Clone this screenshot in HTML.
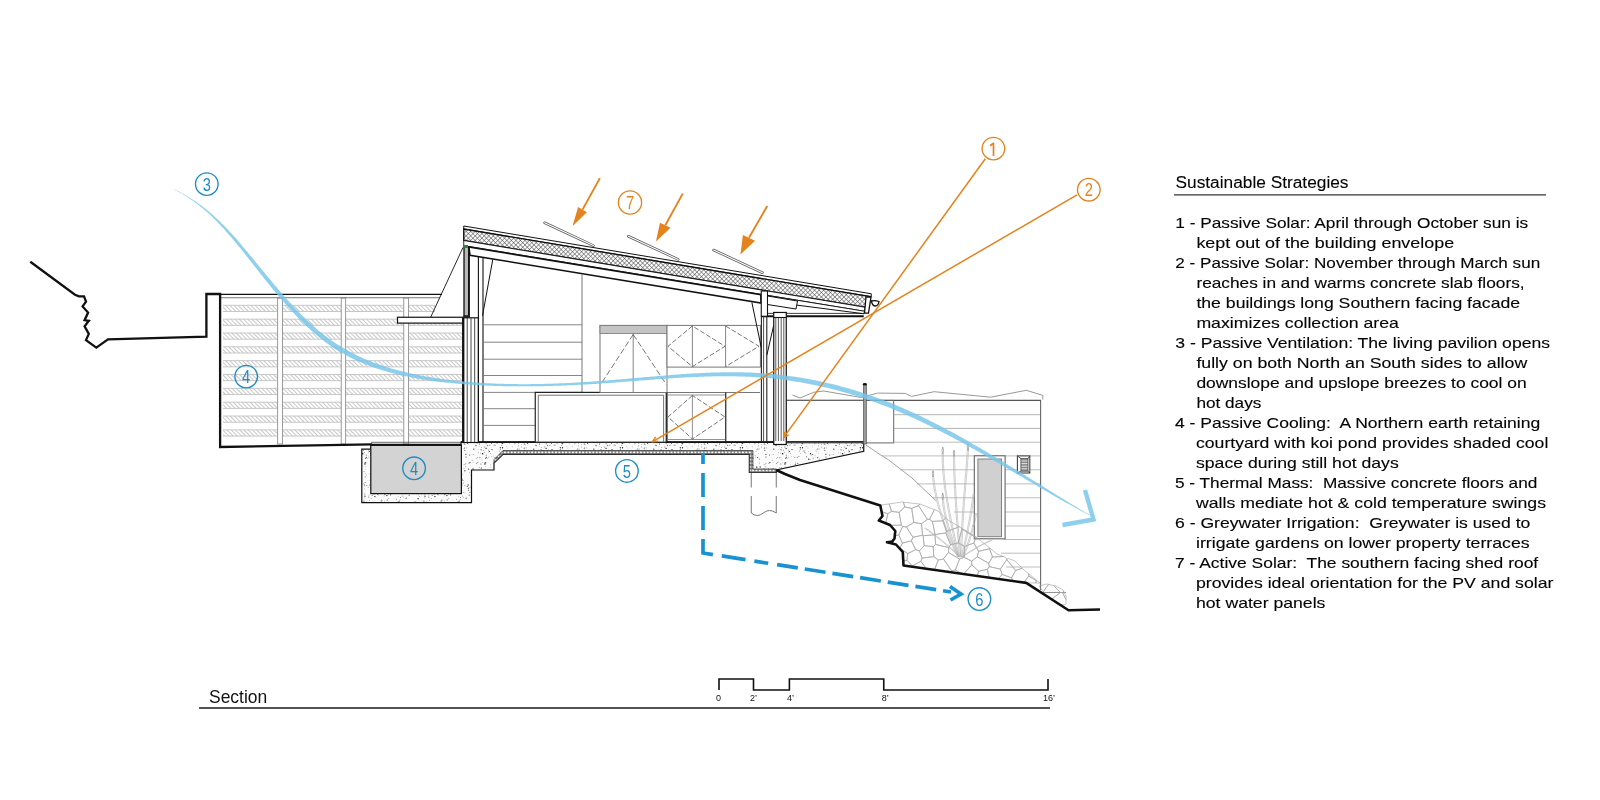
<!DOCTYPE html>
<html><head><meta charset="utf-8"><title>Section</title>
<style>
html,body{margin:0;padding:0;background:#fff;}
svg{display:block;will-change:transform;}
text{font-family:"Liberation Sans", sans-serif;}
</style></head>
<body>
<svg width="1600" height="800" viewBox="0 0 1600 800">
<rect width="1600" height="800" fill="#fff"/>
<defs>
<pattern id="hatch" width="3.0" height="3.0" patternUnits="userSpaceOnUse" patternTransform="rotate(-45)">
  <rect width="3.0" height="3.0" fill="#fff"/>
  <line x1="0" y1="0" x2="0" y2="3.0" stroke="#a4a4a4" stroke-width="1.2"/>
</pattern>
<pattern id="xhatch" width="3.2" height="3.2" patternUnits="userSpaceOnUse" patternTransform="rotate(45)">
  <rect width="3.2" height="3.2" fill="#fafafa"/>
  <line x1="0" y1="0" x2="0" y2="3.2" stroke="#444" stroke-width="0.95"/>
  <line x1="0" y1="0" x2="3.2" y2="0" stroke="#444" stroke-width="0.95"/>
</pattern>
<pattern id="membrane" width="3.4" height="3.6" patternUnits="userSpaceOnUse" y="450.6">
  <rect width="3.4" height="3.6" fill="#777"/>
  <rect x="0.7" y="0.9" width="2.1" height="1.8" fill="#fff"/>
</pattern>

<pattern id="stip" width="60" height="60" patternUnits="userSpaceOnUse"><rect width="60" height="60" fill="#fbfbfb"/><circle cx="19.4" cy="9.1" r="0.6" fill="#222"/><circle cx="4.3" cy="32.2" r="0.4" fill="#222"/><circle cx="54.6" cy="12.9" r="0.3" fill="#888"/><circle cx="25.1" cy="14.4" r="0.5" fill="#888"/><circle cx="3.5" cy="33.9" r="0.35" fill="#222"/><circle cx="34.6" cy="23.8" r="0.35" fill="#222"/><circle cx="33.4" cy="8.0" r="0.45" fill="#444"/><circle cx="32.4" cy="34.3" r="0.5" fill="#444"/><circle cx="6.2" cy="34.3" r="0.35" fill="#666"/><circle cx="5.8" cy="42.7" r="0.5" fill="#222"/><circle cx="37.1" cy="29.8" r="0.5" fill="#888"/><circle cx="46.6" cy="27.9" r="0.45" fill="#666"/><circle cx="18.0" cy="47.7" r="0.6" fill="#444"/><circle cx="4.9" cy="18.0" r="0.45" fill="#666"/><circle cx="43.8" cy="17.3" r="0.3" fill="#222"/><circle cx="30.7" cy="9.9" r="0.4" fill="#444"/><circle cx="56.0" cy="25.3" r="0.6" fill="#222"/><circle cx="45.9" cy="34.4" r="0.7" fill="#666"/><circle cx="20.4" cy="21.0" r="0.45" fill="#888"/><circle cx="4.1" cy="5.6" r="0.4" fill="#888"/><circle cx="41.8" cy="3.9" r="0.6" fill="#666"/><circle cx="38.8" cy="59.6" r="0.7" fill="#888"/><circle cx="17.1" cy="23.1" r="0.6" fill="#666"/><circle cx="1.4" cy="27.7" r="0.35" fill="#222"/><circle cx="29.6" cy="13.1" r="0.4" fill="#444"/><circle cx="44.3" cy="23.9" r="0.7" fill="#888"/><circle cx="4.8" cy="27.0" r="0.5" fill="#666"/><circle cx="53.0" cy="49.2" r="0.7" fill="#666"/><circle cx="42.4" cy="59.2" r="0.6" fill="#888"/><circle cx="57.5" cy="9.1" r="0.35" fill="#444"/><circle cx="13.9" cy="14.0" r="0.45" fill="#444"/><circle cx="15.8" cy="0.2" r="0.45" fill="#666"/><circle cx="36.6" cy="19.1" r="0.35" fill="#222"/><circle cx="27.4" cy="52.3" r="0.7" fill="#888"/><circle cx="23.9" cy="23.6" r="0.45" fill="#888"/><circle cx="3.7" cy="4.0" r="0.35" fill="#888"/><circle cx="9.7" cy="20.4" r="0.3" fill="#222"/><circle cx="0.0" cy="9.1" r="0.3" fill="#666"/><circle cx="36.8" cy="4.2" r="0.35" fill="#888"/><circle cx="8.9" cy="15.1" r="0.4" fill="#666"/><circle cx="28.4" cy="6.9" r="0.45" fill="#888"/><circle cx="28.8" cy="18.7" r="0.35" fill="#222"/><circle cx="45.0" cy="44.4" r="0.45" fill="#444"/><circle cx="31.0" cy="12.3" r="0.5" fill="#666"/><circle cx="8.8" cy="32.6" r="0.3" fill="#666"/><circle cx="58.7" cy="51.8" r="0.6" fill="#666"/><circle cx="31.1" cy="54.5" r="0.4" fill="#444"/><circle cx="32.0" cy="46.7" r="0.4" fill="#444"/><circle cx="36.8" cy="47.3" r="0.7" fill="#444"/><circle cx="48.4" cy="49.1" r="0.6" fill="#444"/><circle cx="12.0" cy="29.6" r="0.6" fill="#222"/><circle cx="59.4" cy="47.4" r="0.45" fill="#666"/><circle cx="11.6" cy="36.3" r="0.4" fill="#888"/><circle cx="48.5" cy="43.4" r="0.4" fill="#666"/><circle cx="4.8" cy="6.1" r="0.45" fill="#444"/><circle cx="20.3" cy="29.0" r="0.5" fill="#222"/><circle cx="28.8" cy="39.2" r="0.7" fill="#222"/><circle cx="50.1" cy="7.2" r="0.45" fill="#444"/><circle cx="28.7" cy="10.7" r="0.7" fill="#666"/><circle cx="5.2" cy="56.8" r="0.6" fill="#888"/><circle cx="27.8" cy="44.6" r="0.3" fill="#444"/><circle cx="10.2" cy="7.6" r="0.35" fill="#888"/><circle cx="48.4" cy="8.8" r="0.7" fill="#888"/><circle cx="39.4" cy="21.0" r="0.5" fill="#444"/><circle cx="1.3" cy="48.0" r="0.6" fill="#222"/><circle cx="31.6" cy="56.0" r="0.45" fill="#444"/><circle cx="49.6" cy="12.7" r="0.4" fill="#444"/><circle cx="17.6" cy="14.4" r="0.5" fill="#666"/><circle cx="15.6" cy="25.1" r="0.35" fill="#222"/><circle cx="54.6" cy="21.2" r="0.45" fill="#888"/><circle cx="49.6" cy="52.7" r="0.35" fill="#444"/><circle cx="31.4" cy="1.1" r="0.45" fill="#444"/><circle cx="36.5" cy="46.6" r="0.35" fill="#444"/><circle cx="8.5" cy="37.1" r="0.3" fill="#222"/><circle cx="19.6" cy="31.1" r="0.5" fill="#888"/><circle cx="47.1" cy="6.4" r="0.5" fill="#222"/><circle cx="14.9" cy="16.6" r="0.7" fill="#222"/><circle cx="30.5" cy="33.7" r="0.7" fill="#222"/><circle cx="26.6" cy="36.8" r="0.5" fill="#444"/><circle cx="41.6" cy="27.1" r="0.5" fill="#888"/><circle cx="30.5" cy="14.9" r="0.5" fill="#666"/><circle cx="55.4" cy="53.6" r="0.35" fill="#888"/><circle cx="8.2" cy="7.3" r="0.45" fill="#666"/><circle cx="4.4" cy="14.4" r="0.3" fill="#444"/><circle cx="40.2" cy="47.0" r="0.7" fill="#444"/><circle cx="56.4" cy="38.6" r="0.4" fill="#444"/><circle cx="15.2" cy="8.2" r="0.45" fill="#444"/><circle cx="44.8" cy="5.6" r="0.45" fill="#444"/><circle cx="59.4" cy="49.9" r="0.35" fill="#888"/><circle cx="59.6" cy="24.2" r="0.45" fill="#444"/><circle cx="21.4" cy="5.5" r="0.4" fill="#222"/><circle cx="20.3" cy="27.5" r="0.6" fill="#222"/><circle cx="23.1" cy="31.0" r="0.4" fill="#222"/><circle cx="6.8" cy="55.1" r="0.35" fill="#222"/><circle cx="5.0" cy="16.3" r="0.7" fill="#444"/><circle cx="16.2" cy="7.8" r="0.45" fill="#666"/><circle cx="24.4" cy="32.2" r="0.5" fill="#888"/><circle cx="42.0" cy="5.4" r="0.3" fill="#444"/><circle cx="25.5" cy="4.3" r="0.3" fill="#222"/><circle cx="48.1" cy="5.0" r="0.7" fill="#444"/><circle cx="4.0" cy="51.8" r="0.45" fill="#222"/><circle cx="20.3" cy="33.2" r="0.4" fill="#444"/><circle cx="2.6" cy="42.6" r="0.3" fill="#444"/><circle cx="15.7" cy="10.9" r="0.4" fill="#666"/><circle cx="31.9" cy="12.4" r="0.45" fill="#444"/><circle cx="16.2" cy="48.2" r="0.4" fill="#222"/><circle cx="0.9" cy="44.0" r="0.5" fill="#444"/><circle cx="30.9" cy="14.7" r="0.45" fill="#222"/><circle cx="39.5" cy="39.0" r="0.6" fill="#888"/><circle cx="32.8" cy="53.3" r="0.5" fill="#666"/><circle cx="41.3" cy="58.9" r="0.4" fill="#444"/><circle cx="49.9" cy="42.4" r="0.6" fill="#444"/><circle cx="24.3" cy="20.9" r="0.3" fill="#444"/><circle cx="0.9" cy="37.5" r="0.4" fill="#888"/><circle cx="9.8" cy="5.1" r="0.7" fill="#888"/><circle cx="52.2" cy="40.2" r="0.4" fill="#444"/><circle cx="41.6" cy="2.7" r="0.35" fill="#444"/><circle cx="16.1" cy="0.2" r="0.4" fill="#666"/><circle cx="58.4" cy="32.8" r="0.35" fill="#222"/><circle cx="57.9" cy="18.6" r="0.4" fill="#444"/><circle cx="0.1" cy="22.9" r="0.45" fill="#666"/><circle cx="30.2" cy="12.1" r="0.5" fill="#222"/><circle cx="5.5" cy="49.0" r="0.35" fill="#888"/><circle cx="35.2" cy="23.6" r="0.4" fill="#666"/><circle cx="37.8" cy="5.1" r="0.5" fill="#444"/><circle cx="39.5" cy="43.0" r="0.5" fill="#888"/><circle cx="45.9" cy="43.2" r="0.45" fill="#444"/><circle cx="17.1" cy="37.1" r="0.35" fill="#222"/><circle cx="49.5" cy="42.9" r="0.5" fill="#888"/><circle cx="44.0" cy="48.7" r="0.35" fill="#222"/><circle cx="49.6" cy="35.0" r="0.6" fill="#444"/><circle cx="5.1" cy="2.5" r="0.6" fill="#666"/><circle cx="57.6" cy="22.6" r="0.45" fill="#222"/><circle cx="37.7" cy="37.6" r="0.6" fill="#444"/><circle cx="29.4" cy="0.2" r="0.7" fill="#222"/><circle cx="44.9" cy="30.2" r="0.5" fill="#222"/><circle cx="39.6" cy="4.0" r="0.6" fill="#888"/><circle cx="15.1" cy="4.5" r="0.4" fill="#444"/><circle cx="43.8" cy="12.3" r="0.6" fill="#888"/><circle cx="29.6" cy="23.0" r="0.45" fill="#666"/><circle cx="46.0" cy="37.0" r="0.6" fill="#444"/><circle cx="4.6" cy="8.8" r="0.4" fill="#666"/><circle cx="37.3" cy="8.0" r="0.45" fill="#222"/><circle cx="29.1" cy="58.4" r="0.3" fill="#444"/><circle cx="40.5" cy="17.5" r="0.5" fill="#666"/><circle cx="27.9" cy="28.0" r="0.3" fill="#444"/><circle cx="18.7" cy="5.2" r="0.45" fill="#222"/><circle cx="17.4" cy="4.6" r="0.5" fill="#888"/><circle cx="59.6" cy="23.2" r="0.35" fill="#222"/><circle cx="34.9" cy="8.5" r="0.5" fill="#666"/><circle cx="57.2" cy="8.0" r="0.7" fill="#666"/><circle cx="53.2" cy="42.2" r="0.35" fill="#888"/><circle cx="53.9" cy="29.2" r="0.3" fill="#444"/><circle cx="0.2" cy="29.5" r="0.45" fill="#888"/><circle cx="18.1" cy="8.4" r="0.4" fill="#888"/><circle cx="19.0" cy="50.4" r="0.3" fill="#666"/><circle cx="45.0" cy="50.3" r="0.3" fill="#444"/><circle cx="42.8" cy="54.1" r="0.4" fill="#666"/><circle cx="22.3" cy="23.6" r="0.7" fill="#222"/><circle cx="21.6" cy="25.7" r="0.4" fill="#222"/><circle cx="16.8" cy="3.1" r="0.6" fill="#666"/><circle cx="38.1" cy="8.9" r="0.4" fill="#888"/><circle cx="30.7" cy="11.4" r="0.4" fill="#888"/><circle cx="53.1" cy="48.7" r="0.6" fill="#888"/><circle cx="54.8" cy="56.4" r="0.5" fill="#444"/><circle cx="43.2" cy="3.0" r="0.6" fill="#888"/><circle cx="27.1" cy="45.2" r="0.6" fill="#666"/><circle cx="29.1" cy="54.7" r="0.5" fill="#444"/><circle cx="10.2" cy="24.9" r="0.4" fill="#666"/><circle cx="15.3" cy="44.3" r="0.6" fill="#666"/><circle cx="24.4" cy="14.3" r="0.45" fill="#888"/><circle cx="7.2" cy="38.6" r="0.3" fill="#444"/><circle cx="30.0" cy="48.7" r="0.5" fill="#444"/><circle cx="27.2" cy="20.0" r="0.7" fill="#888"/><circle cx="25.6" cy="32.9" r="0.35" fill="#222"/><circle cx="10.5" cy="33.4" r="0.4" fill="#444"/><circle cx="22.1" cy="48.6" r="0.35" fill="#222"/><circle cx="45.0" cy="24.8" r="0.45" fill="#444"/><circle cx="22.6" cy="20.3" r="0.3" fill="#888"/><circle cx="16.7" cy="58.1" r="0.35" fill="#444"/><circle cx="5.6" cy="53.8" r="0.45" fill="#888"/><circle cx="38.7" cy="25.9" r="0.4" fill="#222"/><circle cx="7.6" cy="25.5" r="0.7" fill="#888"/><circle cx="58.1" cy="29.4" r="0.3" fill="#888"/><circle cx="55.8" cy="55.7" r="0.5" fill="#888"/><circle cx="58.3" cy="14.9" r="0.3" fill="#444"/><circle cx="9.3" cy="31.3" r="0.6" fill="#222"/><circle cx="56.5" cy="43.3" r="0.6" fill="#888"/><circle cx="5.1" cy="46.6" r="0.3" fill="#444"/><circle cx="14.0" cy="55.2" r="0.6" fill="#666"/><circle cx="57.7" cy="37.6" r="0.5" fill="#888"/><circle cx="41.9" cy="6.7" r="0.3" fill="#666"/><circle cx="31.5" cy="35.0" r="0.45" fill="#666"/><circle cx="13.4" cy="36.1" r="0.3" fill="#666"/><circle cx="59.8" cy="16.7" r="0.4" fill="#444"/><circle cx="28.5" cy="14.1" r="0.35" fill="#222"/><circle cx="57.6" cy="42.3" r="0.4" fill="#222"/><circle cx="1.3" cy="29.9" r="0.6" fill="#888"/><circle cx="4.9" cy="13.7" r="0.45" fill="#666"/><circle cx="13.6" cy="2.0" r="0.4" fill="#888"/><circle cx="21.7" cy="23.8" r="0.3" fill="#666"/><circle cx="44.3" cy="30.3" r="0.35" fill="#888"/><circle cx="58.2" cy="18.7" r="0.7" fill="#444"/><circle cx="13.8" cy="13.3" r="0.7" fill="#666"/><circle cx="6.5" cy="37.4" r="0.5" fill="#444"/><circle cx="53.8" cy="29.1" r="0.6" fill="#222"/><circle cx="56.9" cy="8.8" r="0.45" fill="#222"/><circle cx="12.8" cy="58.4" r="0.35" fill="#888"/><circle cx="3.1" cy="3.6" r="0.45" fill="#888"/><circle cx="53.9" cy="53.0" r="0.6" fill="#222"/><circle cx="59.9" cy="55.9" r="0.4" fill="#444"/><circle cx="11.1" cy="56.2" r="0.6" fill="#888"/><circle cx="1.9" cy="39.9" r="0.45" fill="#666"/><circle cx="59.1" cy="26.5" r="0.3" fill="#222"/><circle cx="4.7" cy="4.8" r="0.45" fill="#222"/><circle cx="33.7" cy="45.5" r="0.45" fill="#666"/><circle cx="46.1" cy="18.5" r="0.7" fill="#888"/><circle cx="5.3" cy="42.3" r="0.35" fill="#666"/><circle cx="32.5" cy="26.8" r="0.4" fill="#666"/><circle cx="44.2" cy="28.5" r="0.6" fill="#888"/><circle cx="14.9" cy="37.5" r="0.45" fill="#222"/><circle cx="22.5" cy="27.8" r="0.7" fill="#222"/><circle cx="15.4" cy="44.8" r="0.5" fill="#666"/><circle cx="21.8" cy="20.1" r="0.5" fill="#222"/><circle cx="15.7" cy="43.0" r="0.4" fill="#666"/><circle cx="17.8" cy="43.3" r="0.5" fill="#222"/><circle cx="1.5" cy="14.0" r="0.45" fill="#888"/><circle cx="57.2" cy="23.2" r="0.4" fill="#888"/><circle cx="48.9" cy="8.0" r="0.45" fill="#444"/><circle cx="0.5" cy="55.9" r="0.4" fill="#444"/><circle cx="36.4" cy="19.7" r="0.4" fill="#888"/><circle cx="21.7" cy="46.9" r="0.3" fill="#444"/><circle cx="23.5" cy="9.6" r="0.45" fill="#222"/><circle cx="39.0" cy="28.9" r="0.5" fill="#666"/><circle cx="9.6" cy="25.6" r="0.3" fill="#222"/><circle cx="15.9" cy="5.0" r="0.3" fill="#888"/><circle cx="29.9" cy="42.6" r="0.45" fill="#444"/><circle cx="14.1" cy="25.0" r="0.5" fill="#444"/><circle cx="44.9" cy="50.8" r="0.6" fill="#222"/><circle cx="46.8" cy="17.6" r="0.4" fill="#666"/><circle cx="22.4" cy="44.3" r="0.35" fill="#888"/><circle cx="14.8" cy="14.7" r="0.35" fill="#666"/><circle cx="53.1" cy="34.7" r="0.4" fill="#222"/><circle cx="23.8" cy="59.5" r="0.5" fill="#444"/><circle cx="39.0" cy="6.0" r="0.45" fill="#222"/><circle cx="6.1" cy="28.5" r="0.7" fill="#444"/><circle cx="50.4" cy="54.9" r="0.3" fill="#666"/><circle cx="14.0" cy="3.0" r="0.5" fill="#444"/><circle cx="55.8" cy="22.3" r="0.7" fill="#444"/><circle cx="26.9" cy="15.6" r="0.7" fill="#222"/><circle cx="6.3" cy="35.8" r="0.5" fill="#666"/><circle cx="13.1" cy="22.1" r="0.35" fill="#222"/><circle cx="12.2" cy="15.3" r="0.5" fill="#444"/><circle cx="48.9" cy="49.1" r="0.45" fill="#666"/><circle cx="11.1" cy="18.7" r="0.35" fill="#222"/><circle cx="47.7" cy="32.9" r="0.3" fill="#888"/><circle cx="6.1" cy="23.7" r="0.5" fill="#444"/><circle cx="38.4" cy="5.5" r="0.35" fill="#888"/><circle cx="41.7" cy="24.6" r="0.4" fill="#666"/><circle cx="25.1" cy="3.1" r="0.6" fill="#666"/><circle cx="24.8" cy="1.1" r="0.7" fill="#666"/><circle cx="38.7" cy="23.4" r="0.45" fill="#444"/><circle cx="56.5" cy="26.0" r="0.35" fill="#888"/><circle cx="6.8" cy="5.4" r="0.5" fill="#666"/><circle cx="27.7" cy="9.8" r="0.3" fill="#222"/><circle cx="33.1" cy="38.4" r="0.45" fill="#222"/><circle cx="34.4" cy="55.6" r="0.6" fill="#444"/><circle cx="8.8" cy="17.0" r="0.5" fill="#444"/><circle cx="55.5" cy="6.5" r="0.45" fill="#444"/><circle cx="18.1" cy="50.2" r="0.3" fill="#888"/><circle cx="18.9" cy="36.5" r="0.6" fill="#888"/><circle cx="5.2" cy="42.7" r="0.6" fill="#444"/><circle cx="38.4" cy="51.4" r="0.5" fill="#888"/><circle cx="36.9" cy="11.8" r="0.45" fill="#444"/><circle cx="33.9" cy="2.5" r="0.5" fill="#444"/><circle cx="23.0" cy="7.4" r="0.35" fill="#444"/><circle cx="2.5" cy="33.7" r="0.7" fill="#222"/><circle cx="40.1" cy="19.5" r="0.45" fill="#888"/><circle cx="33.0" cy="37.6" r="0.4" fill="#888"/><circle cx="18.5" cy="15.0" r="0.45" fill="#666"/><circle cx="26.8" cy="26.3" r="0.3" fill="#222"/><circle cx="37.1" cy="29.4" r="0.35" fill="#888"/><circle cx="45.8" cy="46.8" r="0.45" fill="#444"/><circle cx="48.6" cy="24.0" r="0.3" fill="#444"/><circle cx="21.5" cy="21.9" r="0.7" fill="#888"/><circle cx="30.3" cy="39.4" r="0.3" fill="#444"/><circle cx="4.9" cy="44.0" r="0.7" fill="#222"/><circle cx="3.3" cy="30.2" r="0.45" fill="#444"/><circle cx="1.6" cy="4.0" r="0.5" fill="#222"/><circle cx="11.6" cy="58.9" r="0.45" fill="#666"/><circle cx="57.4" cy="55.0" r="0.35" fill="#444"/><circle cx="3.9" cy="21.1" r="0.7" fill="#666"/><circle cx="9.5" cy="53.8" r="0.4" fill="#888"/><circle cx="8.6" cy="30.1" r="0.45" fill="#444"/><circle cx="35.5" cy="37.0" r="0.35" fill="#666"/><circle cx="22.3" cy="11.9" r="0.45" fill="#444"/><circle cx="38.2" cy="16.7" r="0.4" fill="#888"/><circle cx="10.1" cy="47.1" r="0.3" fill="#222"/><circle cx="38.2" cy="21.6" r="0.7" fill="#888"/><circle cx="33.3" cy="34.8" r="0.3" fill="#666"/><circle cx="59.6" cy="37.8" r="0.45" fill="#666"/><circle cx="15.9" cy="59.4" r="0.5" fill="#444"/><circle cx="21.6" cy="45.9" r="0.45" fill="#444"/><circle cx="10.6" cy="44.6" r="0.3" fill="#666"/><circle cx="49.2" cy="15.2" r="0.6" fill="#666"/><circle cx="44.0" cy="44.8" r="0.35" fill="#444"/><circle cx="17.5" cy="37.5" r="0.45" fill="#666"/><circle cx="53.7" cy="7.9" r="0.35" fill="#222"/><circle cx="1.3" cy="0.2" r="0.4" fill="#666"/><circle cx="6.4" cy="21.4" r="0.35" fill="#888"/><circle cx="35.0" cy="35.3" r="0.35" fill="#666"/><circle cx="37.4" cy="28.5" r="0.35" fill="#222"/><circle cx="56.2" cy="14.6" r="0.35" fill="#888"/><circle cx="5.7" cy="38.3" r="0.7" fill="#666"/><circle cx="24.1" cy="15.9" r="0.3" fill="#222"/><circle cx="38.7" cy="33.7" r="0.4" fill="#888"/><circle cx="36.1" cy="31.1" r="0.45" fill="#444"/><circle cx="9.9" cy="0.0" r="0.3" fill="#222"/><circle cx="24.4" cy="14.3" r="0.3" fill="#222"/><circle cx="0.7" cy="33.1" r="0.35" fill="#444"/><circle cx="24.8" cy="31.1" r="0.6" fill="#888"/><circle cx="48.8" cy="10.5" r="0.4" fill="#222"/><circle cx="18.0" cy="2.9" r="0.6" fill="#888"/><circle cx="42.9" cy="0.4" r="0.7" fill="#888"/><circle cx="44.7" cy="27.9" r="0.6" fill="#888"/><circle cx="10.5" cy="59.8" r="0.4" fill="#444"/><circle cx="38.6" cy="7.4" r="0.6" fill="#666"/><circle cx="42.7" cy="16.0" r="0.5" fill="#888"/><circle cx="41.1" cy="55.0" r="0.4" fill="#666"/><circle cx="38.5" cy="57.9" r="0.35" fill="#222"/><circle cx="52.8" cy="0.9" r="0.4" fill="#444"/><circle cx="50.5" cy="12.2" r="0.35" fill="#666"/><circle cx="11.5" cy="23.3" r="0.5" fill="#444"/><circle cx="22.8" cy="51.1" r="0.6" fill="#888"/><circle cx="28.3" cy="31.8" r="0.3" fill="#222"/><circle cx="26.2" cy="43.5" r="0.5" fill="#666"/><circle cx="47.4" cy="23.5" r="0.5" fill="#222"/><circle cx="33.9" cy="10.3" r="0.3" fill="#222"/><circle cx="6.7" cy="37.3" r="0.35" fill="#666"/><circle cx="58.6" cy="42.0" r="0.3" fill="#222"/></pattern>
</defs>
<rect x="223" y="305.30" width="212" height="6.2" fill="url(#hatch)"/>
<line x1="223" y1="305.30" x2="435" y2="305.30" stroke="#c2c2c2" stroke-width="0.9"/>
<line x1="223" y1="311.50" x2="435" y2="311.50" stroke="#c2c2c2" stroke-width="0.9"/>
<rect x="223" y="319.14" width="239" height="6.2" fill="url(#hatch)"/>
<line x1="223" y1="319.14" x2="462" y2="319.14" stroke="#c2c2c2" stroke-width="0.9"/>
<line x1="223" y1="325.34" x2="462" y2="325.34" stroke="#c2c2c2" stroke-width="0.9"/>
<rect x="223" y="332.98" width="239" height="6.2" fill="url(#hatch)"/>
<line x1="223" y1="332.98" x2="462" y2="332.98" stroke="#c2c2c2" stroke-width="0.9"/>
<line x1="223" y1="339.18" x2="462" y2="339.18" stroke="#c2c2c2" stroke-width="0.9"/>
<rect x="223" y="346.82" width="239" height="6.2" fill="url(#hatch)"/>
<line x1="223" y1="346.82" x2="462" y2="346.82" stroke="#c2c2c2" stroke-width="0.9"/>
<line x1="223" y1="353.02" x2="462" y2="353.02" stroke="#c2c2c2" stroke-width="0.9"/>
<rect x="223" y="360.66" width="239" height="6.2" fill="url(#hatch)"/>
<line x1="223" y1="360.66" x2="462" y2="360.66" stroke="#c2c2c2" stroke-width="0.9"/>
<line x1="223" y1="366.86" x2="462" y2="366.86" stroke="#c2c2c2" stroke-width="0.9"/>
<rect x="223" y="374.50" width="239" height="6.2" fill="url(#hatch)"/>
<line x1="223" y1="374.50" x2="462" y2="374.50" stroke="#c2c2c2" stroke-width="0.9"/>
<line x1="223" y1="380.70" x2="462" y2="380.70" stroke="#c2c2c2" stroke-width="0.9"/>
<rect x="223" y="388.34" width="239" height="6.2" fill="url(#hatch)"/>
<line x1="223" y1="388.34" x2="462" y2="388.34" stroke="#c2c2c2" stroke-width="0.9"/>
<line x1="223" y1="394.54" x2="462" y2="394.54" stroke="#c2c2c2" stroke-width="0.9"/>
<rect x="223" y="402.18" width="239" height="6.2" fill="url(#hatch)"/>
<line x1="223" y1="402.18" x2="462" y2="402.18" stroke="#c2c2c2" stroke-width="0.9"/>
<line x1="223" y1="408.38" x2="462" y2="408.38" stroke="#c2c2c2" stroke-width="0.9"/>
<rect x="223" y="416.02" width="239" height="6.2" fill="url(#hatch)"/>
<line x1="223" y1="416.02" x2="462" y2="416.02" stroke="#c2c2c2" stroke-width="0.9"/>
<line x1="223" y1="422.22" x2="462" y2="422.22" stroke="#c2c2c2" stroke-width="0.9"/>
<rect x="223" y="429.86" width="239" height="6.2" fill="url(#hatch)"/>
<line x1="223" y1="429.86" x2="462" y2="429.86" stroke="#c2c2c2" stroke-width="0.9"/>
<line x1="223" y1="436.06" x2="462" y2="436.06" stroke="#c2c2c2" stroke-width="0.9"/>
<rect x="277.6" y="298" width="4.90" height="146" fill="#fff" stroke="#9a9a9a" stroke-width="1"/>
<rect x="341.25" y="298" width="4.35" height="146" fill="#fff" stroke="#9a9a9a" stroke-width="1"/>
<rect x="403.75" y="298" width="4.75" height="146" fill="#fff" stroke="#9a9a9a" stroke-width="1"/>
<line x1="221" y1="297.7" x2="440" y2="297.7" stroke="#777" stroke-width="1.1"/>
<line x1="220" y1="294.4" x2="442" y2="294.4" stroke="#111" stroke-width="1.4"/>
<polyline points="30.30,261.70 75.00,294.70 79.00,296.40 84.00,296.40 86.00,301.60 82.60,306.40 88.10,312.60 84.60,320.20 88.80,320.80 84.60,326.30 88.80,333.90 86.00,340.10 96.30,347.70 108.00,339.40 206.40,336.70 206.40,294.00 220.10,294.00 220.10,447.00 372.00,444.40" fill="none" stroke="#111" stroke-width="2.3" stroke-linejoin="miter"/>
<polygon points="461.00,442.20 863.75,442.20 863.75,451.25 776.25,470.00 776.25,472.50 749.40,472.50 749.40,454.40 503.00,454.40 494.00,463.00 494.00,470.00 471.50,470.00 471.50,502.60 361.80,502.60 361.80,449.20 371.00,449.20 371.00,444.40 461.00,444.40" fill="url(#stip)" stroke="#111" stroke-width="1.2"/>
<rect x="370.8" y="445.25" width="90.6" height="48.35" fill="#d3d3d3" stroke="#111" stroke-width="1.2"/>
<line x1="370.8" y1="444.9" x2="461.4" y2="444.9" stroke="#111" stroke-width="1.7"/>
<line x1="371" y1="442.3" x2="461.4" y2="442.3" stroke="#444" stroke-width="0.8"/>
<polygon points="503.00,450.60 752.90,450.60 752.90,469.00 776.25,469.00 776.25,472.50 749.40,472.50 749.40,454.20 503.00,454.20 494.00,463.00 494.00,459.60" fill="url(#membrane)" stroke="#333" stroke-width="0.8"/>
<line x1="461" y1="442.2" x2="863.75" y2="442.2" stroke="#111" stroke-width="1.8"/>
<path d="M751.25,473 V487.5 M751.25,496 V513 M776.25,473 V487.5 M776.25,496 V513 M751.25,513 q6,5 12,0 t13,0" fill="none" stroke="#777" stroke-width="1"/>
<polyline points="792.5,395 800,398 813.75,392.25 823.75,391 861.25,397.5 877.5,393.1 905.4,393.4 911.5,396.4 934.2,391.7 990.6,397.2 1026.3,390.3 1042.8,395.4 1042.8,399.6" fill="none" stroke="#999" stroke-width="1"/>
<line x1="785.6" y1="400.4" x2="1041" y2="400.4" stroke="#555" stroke-width="1.1"/>
<line x1="1040.6" y1="400.4" x2="1040.6" y2="590" stroke="#666" stroke-width="1.1"/>
<line x1="1043" y1="592.5" x2="1066" y2="592.5" stroke="#777" stroke-width="0.8"/>
<rect x="786" y="400.4" width="107.7" height="42.5" fill="none" stroke="#666" stroke-width="1"/>
<line x1="893.7" y1="414.7" x2="1040" y2="414.7" stroke="#aaa" stroke-width="0.9"/>
<line x1="893.7" y1="428.4" x2="1040" y2="428.4" stroke="#aaa" stroke-width="0.9"/>
<line x1="882.1" y1="455.9" x2="1040" y2="455.9" stroke="#b5b5b5" stroke-width="0.9"/>
<line x1="900.1" y1="469.8" x2="1040" y2="469.8" stroke="#b5b5b5" stroke-width="0.9"/>
<line x1="916.5" y1="483.9" x2="1040" y2="483.9" stroke="#b5b5b5" stroke-width="0.9"/>
<line x1="932.6" y1="497.8" x2="1040" y2="497.8" stroke="#b5b5b5" stroke-width="0.9"/>
<line x1="954.0" y1="512" x2="1040" y2="512" stroke="#b5b5b5" stroke-width="0.9"/>
<line x1="972.0" y1="526" x2="1040" y2="526" stroke="#b5b5b5" stroke-width="0.9"/>
<line x1="1004.0" y1="539.5" x2="1040" y2="539.5" stroke="#b5b5b5" stroke-width="0.9"/>
<line x1="1001.0" y1="553.2" x2="1040" y2="553.2" stroke="#b5b5b5" stroke-width="0.9"/>
<line x1="1006.0" y1="567" x2="1040" y2="567" stroke="#b5b5b5" stroke-width="0.9"/>
<line x1="893.7" y1="442.2" x2="1040" y2="442.2" stroke="#b5b5b5" stroke-width="0.9"/>
<polyline points="866,445 880,454.6 888.75,460 912,478 936,500.75" fill="none" stroke="#999" stroke-width="0.9"/>
<rect x="974.3" y="455.8" width="30.8" height="83" fill="#fff" stroke="#666" stroke-width="1.1"/>
<rect x="977.9" y="459" width="23.6" height="77.7" fill="#d0d0d0" stroke="#777" stroke-width="0.9"/>
<rect x="1017.4" y="455.9" width="12.4" height="17.1" fill="#fff" stroke="#444" stroke-width="1.1"/>
<rect x="1020.9" y="458.6" width="7.1" height="12.6" fill="#8a8a8a" stroke="#444" stroke-width="0.7"/>
<path d="M1021.5,461 H1027.4 M1021.5,463.6 H1027.4 M1021.5,466.2 H1027.4 M1021.5,468.8 H1027.4" stroke="#eee" stroke-width="0.9"/>
<path d="M1017.4,455.9 L1020.9,458.6 M1017.4,473 L1020.9,471.2 M1029.8,455.9 L1028,458.6 M1029.8,473 L1028,471.2" stroke="#333" stroke-width="0.8"/>
<rect x="863.4" y="384" width="3" height="60" fill="#9a9a9a" stroke="#444" stroke-width="0.6"/>
<ellipse cx="864.9" cy="384.2" rx="2" ry="1.2" fill="#111"/>
<line x1="544.6" y1="222.8" x2="593.4" y2="245.6" stroke="#5a5a5a" stroke-width="2.6" stroke-linecap="round"/>
<line x1="544.6" y1="222.8" x2="593.4" y2="245.6" stroke="#fff" stroke-width="1.1" stroke-linecap="round"/>
<line x1="628.3" y1="236.3" x2="678.2" y2="259.4" stroke="#5a5a5a" stroke-width="2.6" stroke-linecap="round"/>
<line x1="628.3" y1="236.3" x2="678.2" y2="259.4" stroke="#fff" stroke-width="1.1" stroke-linecap="round"/>
<line x1="713.6" y1="250" x2="762.4" y2="272.7" stroke="#5a5a5a" stroke-width="2.6" stroke-linecap="round"/>
<line x1="713.6" y1="250" x2="762.4" y2="272.7" stroke="#fff" stroke-width="1.1" stroke-linecap="round"/>
<polygon points="463.75,226.00 871.25,293.77 871.25,296.77 463.75,229.00" fill="#fff" stroke="#111" stroke-width="1"/>
<polygon points="463.75,229.00 870,296.56 865,307.23 463.75,240.50" fill="url(#xhatch)" stroke="#111" stroke-width="1.4"/>
<polygon points="463.75,240.50 865,307.23 865,311.33 463.75,245.7" fill="#fff" stroke="#111" stroke-width="0.9"/>
<polygon points="468.75,246.9 761,294.71 761,302.96 470,255.2" fill="#fff" stroke="#111" stroke-width="1.6"/>
<polygon points="761,294.31 865,311.33 863.75,313.75 796,305 761,300" fill="#fff" stroke="#111" stroke-width="1.1"/>
<line x1="761.25" y1="316.25" x2="863.75" y2="316.25" stroke="#111" stroke-width="2.2"/>
<line x1="768" y1="313.4" x2="862" y2="313.4" stroke="#111" stroke-width="0.8"/>
<polygon points="866,296.8 871,297.2 868.5,313.2 864.5,313.2" fill="#fff" stroke="#111" stroke-width="1.3"/>
<path d="M871.3,301 Q872.5,306 875.5,306 Q878.5,305.5 879,301.5 Q875,300 871.3,301 Z" fill="#fff" stroke="#111" stroke-width="1.3"/>
<rect x="761.25" y="291" width="6.25" height="25.25" fill="#fff" stroke="#111" stroke-width="1.1"/>
<polygon points="767.5,296 797.5,301 796,309 767.5,304.5" fill="#fff" stroke="#111" stroke-width="1"/>
<rect x="464" y="246.9" width="4.75" height="69.4" fill="#b8b8b8" stroke="#111" stroke-width="1.3"/>
<line x1="469" y1="247" x2="469" y2="317" stroke="#111" stroke-width="1.7"/>
<rect x="463.5" y="315.3" width="6" height="2.6" fill="#222"/>
<rect x="463" y="245" width="5" height="3" fill="#2a8a2a"/>
<line x1="463" y1="247.5" x2="430.75" y2="317" stroke="#111" stroke-width="0.9"/>
<rect x="397.5" y="317.25" width="65.5" height="5.85" fill="#fff" stroke="#111" stroke-width="1.2"/>
<rect x="462.9" y="317.8" width="15.5" height="124.7" fill="#fff" stroke="#111" stroke-width="1.2"/>
<line x1="463.3" y1="318" x2="463.3" y2="442" stroke="#111" stroke-width="2.2"/>
<line x1="467.2" y1="318" x2="467.2" y2="442" stroke="#333" stroke-width="0.9"/>
<line x1="471" y1="318" x2="471" y2="442" stroke="#333" stroke-width="0.9"/>
<line x1="474.7" y1="318" x2="474.7" y2="442" stroke="#333" stroke-width="0.9"/>
<line x1="478.4" y1="257" x2="478.4" y2="442" stroke="#111" stroke-width="1.1"/>
<line x1="483" y1="257" x2="483" y2="442" stroke="#111" stroke-width="1.1"/>
<line x1="492.8" y1="259.3" x2="482.5" y2="315.7" stroke="#111" stroke-width="1"/>
<line x1="582" y1="274.7" x2="582" y2="392.4" stroke="#777" stroke-width="1"/>
<line x1="483" y1="324.8" x2="582" y2="324.8" stroke="#777" stroke-width="0.9"/>
<line x1="483" y1="342.2" x2="582" y2="342.2" stroke="#777" stroke-width="0.9"/>
<line x1="483" y1="359.2" x2="582" y2="359.2" stroke="#777" stroke-width="0.9"/>
<line x1="483" y1="375.5" x2="582" y2="375.5" stroke="#777" stroke-width="0.9"/>
<line x1="483" y1="392.4" x2="582" y2="392.4" stroke="#777" stroke-width="0.9"/>
<line x1="483" y1="408.7" x2="535" y2="408.7" stroke="#777" stroke-width="0.9"/>
<line x1="483" y1="425.4" x2="535" y2="425.4" stroke="#777" stroke-width="0.9"/>
<rect x="535.25" y="392.4" width="131" height="49.8" fill="#fff" stroke="#222" stroke-width="1.2"/>
<polyline points="538.3,442 538.3,395.2 663.6,395.2 663.6,442" fill="none" stroke="#666" stroke-width="0.9"/>
<rect x="600" y="325.4" width="67" height="67.1" fill="#fff" stroke="#777" stroke-width="1"/>
<rect x="600" y="325.4" width="67" height="8.1" fill="#c4c4c4" stroke="#777" stroke-width="0.8"/>
<line x1="633.2" y1="333.5" x2="633.2" y2="392.4" stroke="#777" stroke-width="0.9"/>
<path d="M633.2,334.5 L600.8,384.3 M633.2,334.5 L666.2,384.3" stroke="#555" stroke-width="0.8" stroke-dasharray="6,2.5" fill="none"/>
<rect x="667" y="325.4" width="93.4" height="41.7" fill="#fff" stroke="#777" stroke-width="1"/>
<line x1="692.4" y1="325.4" x2="692.4" y2="367.1" stroke="#777" stroke-width="0.9"/>
<line x1="725.6" y1="325.4" x2="725.6" y2="367.1" stroke="#777" stroke-width="0.9"/>
<path d="M692.4,326 L668,346.3 L692.4,366.6 L725,346.3 Z M725.6,326 L759,346.3 L725.6,366.6" stroke="#555" stroke-width="0.8" stroke-dasharray="5,2" fill="none"/>
<line x1="667" y1="392.5" x2="760" y2="392.5" stroke="#777" stroke-width="1"/>
<line x1="667" y1="392.5" x2="667" y2="442" stroke="#222" stroke-width="1.2"/>
<line x1="725.75" y1="392.5" x2="725.75" y2="442" stroke="#222" stroke-width="1.2"/>
<line x1="668" y1="395" x2="725" y2="395" stroke="#777" stroke-width="0.8"/>
<line x1="668" y1="439.5" x2="725" y2="439.5" stroke="#777" stroke-width="0.8"/>
<line x1="692.4" y1="395" x2="692.4" y2="439.5" stroke="#777" stroke-width="0.8"/>
<path d="M692.4,395.5 L668,417 L692.4,439 L725,417 Z" stroke="#555" stroke-width="0.8" stroke-dasharray="5,2" fill="none"/>
<line x1="761.4" y1="316" x2="761.4" y2="442" stroke="#222" stroke-width="1.1"/>
<line x1="763.6" y1="316" x2="763.6" y2="442" stroke="#222" stroke-width="0.8"/>
<line x1="766.8" y1="316" x2="766.8" y2="442" stroke="#222" stroke-width="1.1"/>
<line x1="751.9" y1="302.5" x2="761.25" y2="347.5" stroke="#111" stroke-width="1"/>
<line x1="773.75" y1="325" x2="766.9" y2="355" stroke="#111" stroke-width="1"/>
<rect x="773.75" y="312.5" width="12.5" height="132" fill="#fff" stroke="#111" stroke-width="1.2"/>
<rect x="773.75" y="312.5" width="12.5" height="5" fill="#fff" stroke="#111" stroke-width="1.1"/>
<line x1="775.8" y1="318" x2="775.8" y2="441" stroke="#333" stroke-width="0.8"/>
<line x1="778.4" y1="318" x2="778.4" y2="441" stroke="#333" stroke-width="0.8"/>
<line x1="781.2" y1="318" x2="781.2" y2="441" stroke="#333" stroke-width="0.8"/>
<line x1="783.8" y1="318" x2="783.8" y2="441" stroke="#333" stroke-width="0.8"/>
<path d="M1060.5,592.5 L1053.6,585.5 L1048.6,584.3 L1043.3,591.7 L1045.0,594.0 L1051.6,599.1 L1060.5,592.5Z M1066.0,599.6 L1066.0,596.0 L1063.7,591.3 L1062.5,592.5 L1066.0,599.6Z M948.5,552.4 L959.5,559.0 L964.2,557.3 L964.5,546.3 L958.2,542.9 L950.6,544.8 L948.8,547.6 L948.5,552.4Z M975.9,537.6 L973.9,543.1 L978.6,551.3 L989.6,548.8 L989.9,548.2 L986.0,545.0 L976.4,537.2 L975.9,537.6Z M922.5,535.2 L921.5,523.7 L913.8,522.5 L906.4,526.9 L913.0,537.3 L922.5,535.2Z M1028.8,576.0 L1036.1,580.6 L1036.7,580.3 L1028.5,573.6 L1028.8,576.0Z M920.9,561.4 L912.3,565.8 L912.1,566.7 L926.3,568.7 L920.9,561.4Z M955.4,570.0 L951.6,570.7 L950.4,572.1 L962.2,573.8 L955.4,570.0Z M935.0,534.8 L935.5,544.4 L948.8,547.6 L950.6,544.8 L945.8,532.9 L935.1,534.6 L935.0,534.8Z M907.0,560.3 L907.7,553.7 L900.1,547.9 L899.4,548.2 L902.8,552.0 L903.3,561.1 L907.0,560.3Z M933.2,546.7 L924.2,545.7 L919.4,550.9 L922.1,558.1 L933.8,556.6 L933.2,546.7Z M978.6,571.2 L971.8,564.8 L963.7,574.0 L977.3,576.0 L978.6,571.2Z M1011.6,577.8 L1002.1,574.5 L998.3,578.9 L1012.7,581.0 L1011.6,577.8Z M987.4,569.3 L978.6,571.2 L977.3,576.0 L989.1,577.6 L987.4,569.3Z M927.4,519.4 L918.6,505.7 L911.7,508.4 L913.8,522.5 L921.5,523.7 L927.4,519.4Z M887.8,513.7 L881.6,511.6 L882.5,516.0 L878.8,520.5 L885.8,523.3 L887.8,513.7Z M988.7,563.3 L977.3,556.8 L971.7,561.2 L971.8,564.8 L978.6,571.2 L987.4,569.3 L989.3,566.6 L988.7,563.3Z M989.6,548.8 L992.5,557.0 L1003.4,556.5 L997.0,554.0 L989.9,548.2 L989.6,548.8Z M1002.1,574.5 L1000.3,569.1 L989.3,566.6 L987.4,569.3 L989.1,577.6 L998.3,578.9 L1002.1,574.5Z M911.4,540.9 L915.7,549.6 L919.4,550.9 L924.2,545.7 L923.1,535.7 L922.5,535.2 L913.0,537.3 L911.4,540.9Z M934.4,569.9 L950.4,572.1 L951.6,570.7 L943.4,558.9 L938.3,560.0 L934.4,569.9Z M946.6,531.4 L945.8,532.9 L950.6,544.8 L958.2,542.9 L961.9,529.1 L961.5,528.0 L959.5,526.8 L946.6,531.4Z M900.1,547.9 L902.4,543.1 L898.8,534.9 L894.8,535.9 L894.5,538.5 L892.3,541.5 L888.2,542.1 L888.1,542.5 L888.3,542.6 L896.0,544.5 L899.4,548.2 L900.1,547.9Z M961.9,529.1 L958.2,542.9 L964.5,546.3 L973.9,543.1 L975.9,537.6 L961.9,529.1Z M929.5,519.4 L927.4,519.4 L921.5,523.7 L922.5,535.2 L923.1,535.7 L935.0,534.8 L935.1,534.6 L932.4,521.4 L929.5,519.4Z M938.3,560.0 L933.8,556.6 L922.1,558.1 L920.9,561.4 L926.3,568.7 L934.4,569.9 L938.3,560.0Z M951.6,570.7 L955.4,570.0 L959.5,559.0 L948.5,552.4 L943.4,558.9 L951.6,570.7Z M918.6,505.7 L927.4,519.4 L929.5,519.4 L934.4,509.6 L920.0,504.0 L919.7,504.0 L918.6,505.7Z M1006.8,558.9 L1006.8,559.6 L1015.6,570.4 L1022.2,568.3 L1022.2,568.2 L1015.0,561.0 L1008.2,558.4 L1006.8,558.9Z M943.4,558.9 L948.5,552.4 L948.8,547.6 L935.5,544.4 L933.2,546.7 L933.8,556.6 L938.3,560.0 L943.4,558.9Z M1000.3,569.1 L1006.8,559.6 L1006.8,558.9 L1005.2,557.2 L1003.4,556.5 L992.5,557.0 L988.7,563.3 L989.3,566.6 L1000.3,569.1Z M943.1,520.8 L945.5,517.8 L938.0,511.0 L934.4,509.6 L929.5,519.4 L932.4,521.4 L943.1,520.8Z M899.1,512.4 L891.5,511.3 L887.8,513.7 L885.8,523.3 L890.0,525.0 L890.3,525.3 L901.4,525.1 L899.1,512.4Z M891.5,511.3 L899.1,512.4 L904.8,506.9 L903.4,502.2 L902.0,502.0 L889.2,503.9 L891.5,511.3Z M976.4,537.2 L975.0,536.0 L961.5,528.0 L961.9,529.1 L975.9,537.6 L976.4,537.2Z M964.5,546.3 L964.2,557.3 L971.7,561.2 L977.3,556.8 L978.6,551.3 L973.9,543.1 L964.5,546.3Z M904.8,506.9 L911.7,508.4 L918.6,505.7 L919.7,504.0 L903.4,502.2 L904.8,506.9Z M912.3,565.8 L920.9,561.4 L922.1,558.1 L919.4,550.9 L915.7,549.6 L907.7,553.7 L907.0,560.3 L912.3,565.8Z M906.4,526.9 L902.7,526.5 L898.8,534.9 L902.4,543.1 L911.4,540.9 L913.0,537.3 L906.4,526.9Z M935.0,534.8 L923.1,535.7 L924.2,545.7 L933.2,546.7 L935.5,544.4 L935.0,534.8Z M1011.6,577.8 L1015.6,570.4 L1006.8,559.6 L1000.3,569.1 L1002.1,574.5 L1011.6,577.8Z M971.8,564.8 L971.7,561.2 L964.2,557.3 L959.5,559.0 L955.4,570.0 L962.2,573.8 L963.7,574.0 L971.8,564.8Z M1051.6,599.1 L1058.0,604.0 L1065.2,604.9 L1066.0,603.6 L1066.0,599.6 L1062.5,592.5 L1060.5,592.5 L1051.6,599.1Z M913.8,522.5 L911.7,508.4 L904.8,506.9 L899.1,512.4 L901.4,525.1 L902.7,526.5 L906.4,526.9 L913.8,522.5Z M935.1,534.6 L945.8,532.9 L946.6,531.4 L943.1,520.8 L932.4,521.4 L935.1,534.6Z M1060.5,592.5 L1062.5,592.5 L1063.7,591.3 L1063.0,590.0 L1056.0,586.0 L1053.6,585.5 L1060.5,592.5Z M1028.8,576.0 L1028.5,573.6 L1024.0,570.0 L1022.4,568.4 L1022.2,568.3 L1015.6,570.4 L1011.6,577.8 L1012.7,581.0 L1023.7,582.5 L1028.8,576.0Z M898.8,534.9 L902.7,526.5 L901.4,525.1 L890.3,525.3 L895.3,531.0 L894.8,535.9 L898.8,534.9Z M889.2,503.9 L882.0,505.0 L880.3,505.5 L881.6,511.6 L887.8,513.7 L891.5,511.3 L889.2,503.9Z M912.3,565.8 L907.0,560.3 L903.3,561.1 L903.5,565.5 L912.1,566.7 L912.3,565.8Z M1036.1,580.6 L1028.8,576.0 L1023.7,582.5 L1026.2,582.9 L1036.1,583.0 L1036.1,580.6Z M943.1,520.8 L946.6,531.4 L959.5,526.8 L948.0,520.0 L945.5,517.8 L943.1,520.8Z M992.5,557.0 L989.6,548.8 L978.6,551.3 L977.3,556.8 L988.7,563.3 L992.5,557.0Z M1036.1,580.6 L1036.1,583.0 L1040.0,583.0 L1036.7,580.3 L1036.1,580.6Z M1048.6,584.3 L1047.0,584.0 L1039.0,586.0 L1043.3,591.7 L1048.6,584.3Z M902.4,543.1 L900.1,547.9 L907.7,553.7 L915.7,549.6 L911.4,540.9 L902.4,543.1Z" fill="none" stroke="#a6a6a6" stroke-width="0.65" stroke-linejoin="round"/>
<path d="M958.4,557 C949.4,520 941.4,480 942.15,453 M959.6,557 C950.6,520 942.6,480 943.35,453 M959.4,557 C956.4,520 953.4,480 953.4,455.5 M960.6,557 C957.6,520 954.6,480 954.6,455.5 M960.4,557 C961.4,515 965.4,480 967.4,449 M961.6,557 C962.6,515 966.6,480 968.6,449 M957.4,557 C944.4,530 934.4,500 932.4,476 M958.6,557 C945.6,530 935.6,500 933.6,476 M958.4,557 C949.4,535 943.4,515 942.15,498.5 M959.6,557 C950.6,535 944.6,515 943.35,498.5 M961.4,557 C967.4,530 971.4,510 973.0,493.7 M962.6,557 C968.6,530 972.6,510 974.2,493.7 M962.4,557 C969.4,540 973.4,525 975.4,513 M963.6,557 C970.6,540 974.6,525 976.6,513 M959.4,557 C947.4,545 934.4,535 924.4,528 M960.6,557 C948.6,545 935.6,535 925.6,528 M961.4,557 C974.4,548 984.4,543 991.4,540 M962.6,557 C975.6,548 985.6,543 992.6,540" fill="none" stroke="#b0b0b0" stroke-width="0.6"/>
<path d="M942.75,447 q-1.6,3 0,7 q1.6,-4 0,-7 M954,450 q-1.5,3 0,6.5 q1.5,-3.5 0,-6.5 M968,443.5 q-1.6,3 0,7 q1.6,-4 0,-7 M933,470.5 q-1.5,3 0,6.5 q1.5,-3.5 0,-6.5 M942.75,493 q-1.5,3 0,6.5 q1.5,-3.5 0,-6.5" fill="none" stroke="#999" stroke-width="0.8"/>
<polyline points="776.25,470.00 785.00,474.00 800.00,480.00 880.30,505.50 882.50,516.00 878.80,520.50 890.00,525.00 895.30,531.00 894.50,538.50 892.30,541.50 887.00,542.30 896.00,544.50 902.80,552.00 903.50,565.50 1026.25,582.90 1068.50,610.25 1100.00,609.50" fill="none" stroke="#111" stroke-width="2.6" stroke-linejoin="round"/>
<polygon points="174.45,189.94 176.30,190.82 178.12,191.72 179.92,192.66 181.71,193.62 183.46,194.63 185.19,195.66 186.89,196.73 188.58,197.81 190.25,198.92 191.91,200.05 193.54,201.20 195.16,202.38 196.76,203.57 198.34,204.79 199.91,206.02 201.46,207.28 202.99,208.55 204.51,209.85 206.02,211.16 207.51,212.48 208.99,213.83 210.46,215.19 211.91,216.57 213.36,217.96 214.79,219.37 216.21,220.80 217.61,222.23 219.01,223.68 220.40,225.15 221.78,226.63 223.15,228.12 224.51,229.62 225.86,231.13 227.21,232.65 228.55,234.19 229.88,235.73 231.20,237.28 232.52,238.85 233.83,240.42 235.14,242.00 236.44,243.58 237.74,245.18 239.14,246.69 240.43,248.30 241.73,249.90 243.02,251.52 244.31,253.13 245.60,254.75 246.88,256.38 248.17,258.01 249.46,259.64 250.74,261.27 252.02,262.91 253.31,264.54 254.59,266.18 255.88,267.82 257.17,269.46 258.45,271.10 259.74,272.74 261.03,274.38 262.33,276.01 263.62,277.65 264.92,279.28 266.21,280.92 267.52,282.55 268.82,284.17 270.13,285.80 271.44,287.42 272.75,289.03 274.07,290.65 275.39,292.25 276.72,293.86 278.05,295.45 279.39,297.05 280.73,298.63 282.07,300.21 283.42,301.78 284.78,303.35 286.15,304.90 287.52,306.45 288.89,307.99 290.28,309.53 291.67,311.05 293.06,312.56 294.47,314.07 295.88,315.56 297.30,317.04 298.73,318.51 300.16,319.97 301.61,321.42 303.07,322.86 304.53,324.28 306.00,325.69 307.48,327.09 308.98,328.47 310.48,329.84 311.99,331.19 313.52,332.53 315.05,333.86 316.60,335.17 318.15,336.46 319.72,337.73 321.30,338.99 322.90,340.23 324.50,341.46 326.12,342.66 327.75,343.85 329.39,345.02 331.05,346.16 332.72,347.29 334.40,348.40 336.10,349.49 337.81,350.55 339.53,351.59 341.27,352.62 343.02,353.62 344.78,354.60 346.55,355.56 348.34,356.50 350.13,357.42 351.94,358.32 353.76,359.20 355.59,360.06 357.43,360.90 359.27,361.72 361.13,362.53 363.00,363.31 364.88,364.08 366.77,364.83 368.67,365.56 370.57,366.27 372.48,366.97 374.41,367.64 376.34,368.30 378.27,368.95 380.22,369.58 382.17,370.19 384.13,370.78 386.10,371.36 388.07,371.93 390.05,372.48 392.04,373.01 394.03,373.53 396.03,374.04 398.03,374.53 400.04,375.00 402.05,375.47 404.07,375.92 406.09,376.35 408.12,376.78 410.15,377.19 412.19,377.58 414.22,377.97 416.27,378.34 418.31,378.70 420.36,379.05 422.41,379.39 424.47,379.72 426.52,380.03 428.58,380.34 430.65,380.64 432.71,380.92 434.77,381.20 436.84,381.46 438.91,381.72 440.97,381.97 443.04,382.21 445.11,382.44 447.18,382.66 449.25,382.87 451.32,383.08 453.39,383.28 455.46,383.47 457.53,383.65 459.60,383.83 461.67,384.00 463.73,384.17 465.80,384.32 467.86,384.48 469.93,384.62 471.99,384.76 474.05,384.89 476.11,385.02 478.17,385.14 480.23,385.25 482.29,385.36 484.34,385.46 486.40,385.56 488.46,385.65 490.51,385.74 492.57,385.81 494.62,385.89 496.68,385.96 498.73,386.02 500.78,386.08 502.83,386.13 504.89,386.17 506.94,386.22 508.99,386.25 511.04,386.28 513.09,386.31 515.14,386.33 517.19,386.35 519.23,386.36 521.28,386.36 523.33,386.36 525.38,386.36 527.43,386.35 529.47,386.34 531.52,386.32 533.57,386.30 535.61,386.28 537.66,386.25 539.70,386.21 541.75,386.17 543.79,386.13 545.84,386.08 547.88,386.03 549.93,385.98 551.97,385.92 554.02,385.86 556.06,385.79 558.11,385.72 560.15,385.65 562.20,385.57 564.24,385.49 566.29,385.40 568.33,385.32 570.38,385.22 572.42,385.13 574.47,385.03 576.51,384.93 578.56,384.83 580.60,384.72 582.65,384.61 584.69,384.50 586.74,384.38 588.78,384.26 590.83,384.14 592.88,384.02 594.92,383.89 596.97,383.76 599.02,383.63 601.06,383.49 603.11,383.36 605.16,383.22 607.21,383.07 609.26,382.93 611.30,382.78 613.35,382.64 615.40,382.49 617.45,382.34 619.50,382.18 621.55,382.03 623.60,381.87 625.65,381.72 627.70,381.56 629.76,381.40 631.81,381.24 633.86,381.08 635.91,380.92 637.96,380.76 640.01,380.61 642.06,380.45 644.11,380.29 646.16,380.13 648.21,379.97 650.26,379.82 652.32,379.66 654.37,379.51 656.42,379.36 658.47,379.21 660.52,379.06 662.57,378.91 664.62,378.77 666.67,378.63 668.71,378.49 670.76,378.35 672.81,378.22 674.86,378.08 676.91,377.96 678.96,377.83 681.00,377.71 683.05,377.59 685.10,377.48 687.14,377.37 689.19,377.26 691.23,377.16 693.28,377.06 695.32,376.97 697.36,376.88 699.40,376.80 701.45,376.72 703.49,376.65 705.53,376.58 707.57,376.52 709.61,376.47 711.65,376.42 713.68,376.37 715.72,376.34 717.76,376.31 719.79,376.28 721.83,376.27 723.86,376.26 725.90,376.25 727.93,376.26 729.96,376.27 731.99,376.29 734.02,376.31 736.05,376.35 738.08,376.39 740.10,376.44 742.13,376.50 744.15,376.57 746.18,376.65 748.20,376.73 750.22,376.83 752.24,376.93 754.26,377.04 756.28,377.17 758.30,377.30 760.31,377.44 762.33,377.59 764.34,377.76 766.35,377.93 768.36,378.11 770.37,378.30 772.38,378.51 774.39,378.72 776.40,378.94 778.40,379.17 780.41,379.41 782.41,379.66 784.41,379.93 786.41,380.20 788.41,380.48 790.41,380.77 792.41,381.07 794.40,381.38 796.40,381.70 798.39,382.02 800.38,382.36 802.37,382.71 804.35,383.07 806.34,383.43 808.32,383.81 810.30,384.20 812.28,384.59 814.26,385.00 816.24,385.41 818.21,385.83 820.18,386.27 822.15,386.71 824.12,387.16 826.09,387.62 828.05,388.09 830.02,388.57 831.98,389.05 833.94,389.55 835.89,390.06 837.85,390.57 839.80,391.10 841.75,391.63 843.69,392.17 845.64,392.73 847.58,393.29 849.52,393.86 851.46,394.43 853.40,395.02 855.33,395.62 857.26,396.22 859.19,396.84 861.11,397.46 863.04,398.09 864.96,398.73 866.87,399.38 868.79,400.04 870.70,400.71 872.61,401.38 874.52,402.07 876.42,402.76 878.32,403.46 880.22,404.17 882.12,404.89 884.01,405.62 885.90,406.35 887.79,407.10 889.67,407.85 891.55,408.61 893.43,409.38 895.31,410.15 897.19,410.94 899.06,411.73 900.93,412.53 902.80,413.33 904.66,414.14 906.52,414.97 908.38,415.79 910.24,416.63 912.10,417.47 913.95,418.32 915.80,419.17 917.65,420.03 919.50,420.90 921.34,421.77 923.19,422.65 925.03,423.54 926.87,424.43 928.70,425.32 930.54,426.23 932.37,427.13 934.20,428.05 936.03,428.97 937.86,429.89 939.68,430.82 941.51,431.76 943.33,432.69 945.15,433.64 946.97,434.59 948.78,435.54 950.60,436.50 952.41,437.46 954.22,438.42 956.03,439.39 957.84,440.37 959.65,441.35 961.45,442.33 963.25,443.31 965.06,444.30 966.86,445.29 968.66,446.29 970.46,447.29 972.25,448.29 974.05,449.29 975.84,450.30 977.63,451.31 979.42,452.32 981.22,453.34 983.00,454.35 984.79,455.37 986.58,456.39 988.36,457.42 990.15,458.44 991.93,459.47 993.71,460.50 995.50,461.53 997.28,462.56 999.05,463.59 1000.83,464.63 1002.61,465.66 1004.39,466.70 1006.16,467.74 1007.94,468.77 1009.71,469.81 1011.48,470.85 1013.26,471.89 1015.03,472.93 1016.80,473.97 1018.57,475.01 1020.34,476.05 1022.11,477.08 1023.88,478.12 1025.64,479.16 1027.41,480.20 1029.18,481.24 1030.94,482.27 1032.71,483.31 1034.47,484.34 1036.24,485.37 1038.00,486.41 1039.71,487.53 1041.48,488.55 1043.25,489.57 1045.01,490.58 1046.78,491.60 1048.55,492.61 1050.31,493.63 1052.08,494.64 1053.85,495.64 1055.61,496.65 1057.38,497.65 1059.14,498.65 1060.90,499.65 1062.67,500.65 1064.43,501.64 1066.19,502.63 1067.96,503.62 1069.72,504.61 1071.48,505.59 1073.24,506.56 1075.00,507.54 1076.77,508.51 1078.53,509.48 1080.29,510.44 1082.05,511.40 1083.81,512.36 1085.57,513.31 1087.33,514.26 1089.09,515.20 1089.34,514.76 1087.61,513.76 1085.89,512.74 1084.17,511.73 1082.45,510.70 1080.72,509.68 1079.00,508.65 1077.28,507.62 1075.56,506.58 1073.84,505.54 1072.12,504.49 1070.39,503.45 1068.67,502.40 1066.95,501.34 1065.23,500.29 1063.51,499.23 1061.78,498.17 1060.06,497.10 1058.34,496.03 1056.61,494.96 1054.89,493.89 1053.17,492.82 1051.44,491.74 1049.72,490.67 1047.99,489.59 1046.26,488.50 1044.54,487.42 1042.81,486.34 1041.08,485.25 1039.29,484.27 1037.56,483.19 1035.82,482.11 1034.09,481.03 1032.35,479.95 1030.61,478.87 1028.87,477.79 1027.13,476.70 1025.39,475.62 1023.64,474.54 1021.90,473.46 1020.15,472.38 1018.41,471.30 1016.66,470.22 1014.91,469.14 1013.16,468.06 1011.41,466.98 1009.66,465.90 1007.90,464.83 1006.15,463.75 1004.39,462.68 1002.63,461.61 1000.87,460.54 999.11,459.47 997.35,458.40 995.58,457.33 993.82,456.27 992.05,455.21 990.28,454.15 988.51,453.09 986.73,452.04 984.96,450.98 983.18,449.93 981.41,448.89 979.63,447.84 977.84,446.80 976.06,445.76 974.27,444.73 972.49,443.70 970.70,442.67 968.91,441.65 967.11,440.62 965.32,439.61 963.52,438.59 961.72,437.58 959.92,436.58 958.11,435.58 956.31,434.58 954.50,433.59 952.69,432.60 950.87,431.62 949.06,430.64 947.24,429.67 945.42,428.70 943.60,427.73 941.77,426.78 939.95,425.82 938.12,424.88 936.28,423.93 934.45,423.00 932.61,422.07 930.77,421.14 928.93,420.23 927.09,419.31 925.24,418.41 923.39,417.51 921.54,416.61 919.68,415.73 917.82,414.85 915.96,413.98 914.10,413.11 912.23,412.25 910.36,411.40 908.49,410.56 906.61,409.72 904.73,408.89 902.85,408.07 900.97,407.25 899.08,406.45 897.19,405.65 895.30,404.86 893.40,404.08 891.50,403.30 889.60,402.54 887.69,401.78 885.79,401.04 883.87,400.30 881.96,399.57 880.04,398.85 878.12,398.13 876.19,397.43 874.27,396.74 872.34,396.05 870.40,395.38 868.47,394.71 866.53,394.06 864.58,393.41 862.64,392.77 860.69,392.14 858.74,391.53 856.79,390.92 854.83,390.32 852.87,389.72 850.91,389.14 848.95,388.57 846.98,388.01 845.01,387.46 843.04,386.91 841.07,386.38 839.09,385.86 837.11,385.34 835.13,384.84 833.15,384.34 831.17,383.86 829.18,383.38 827.19,382.92 825.20,382.46 823.21,382.01 821.21,381.58 819.21,381.15 817.21,380.73 815.21,380.32 813.21,379.93 811.21,379.54 809.20,379.16 807.19,378.79 805.18,378.44 803.17,378.09 801.16,377.75 799.14,377.42 797.12,377.11 795.11,376.80 793.09,376.50 791.07,376.21 789.04,375.93 787.02,375.67 785.00,375.41 782.97,375.16 780.94,374.92 778.91,374.70 776.88,374.48 774.85,374.27 772.82,374.08 770.79,373.89 768.75,373.72 766.72,373.55 764.68,373.40 762.64,373.25 760.61,373.12 758.57,372.99 756.53,372.88 754.49,372.78 752.45,372.68 750.41,372.60 748.36,372.52 746.32,372.46 744.28,372.40 742.24,372.35 740.19,372.32 738.15,372.29 736.10,372.27 734.06,372.25 732.01,372.25 729.97,372.25 727.92,372.26 725.87,372.28 723.83,372.31 721.78,372.34 719.73,372.38 717.68,372.43 715.64,372.48 713.59,372.54 711.54,372.61 709.49,372.68 707.44,372.76 705.39,372.85 703.34,372.94 701.29,373.04 699.24,373.14 697.19,373.24 695.14,373.36 693.09,373.47 691.04,373.59 688.99,373.72 686.93,373.85 684.88,373.99 682.83,374.12 680.78,374.27 678.73,374.41 676.68,374.56 674.63,374.71 672.58,374.87 670.52,375.03 668.47,375.19 666.42,375.35 664.37,375.52 662.32,375.69 660.27,375.86 658.22,376.03 656.17,376.20 654.11,376.38 652.06,376.55 650.01,376.73 647.96,376.91 645.91,377.09 643.86,377.27 641.81,377.45 639.76,377.63 637.71,377.81 635.66,378.00 633.62,378.18 631.57,378.36 629.52,378.54 627.47,378.72 625.42,378.90 623.38,379.07 621.33,379.25 619.28,379.43 617.24,379.60 615.19,379.77 613.14,379.94 611.10,380.11 609.06,380.27 607.01,380.44 604.97,380.60 602.92,380.76 600.88,380.91 598.84,381.06 596.80,381.21 594.75,381.36 592.71,381.51 590.67,381.65 588.63,381.79 586.59,381.92 584.55,382.05 582.50,382.18 580.46,382.31 578.42,382.43 576.38,382.55 574.34,382.66 572.30,382.77 570.26,382.88 568.22,382.98 566.18,383.08 564.14,383.18 562.10,383.27 560.06,383.36 558.02,383.44 555.98,383.52 553.94,383.60 551.90,383.67 549.86,383.73 547.82,383.80 545.78,383.85 543.74,383.90 541.70,383.95 539.66,383.99 537.62,384.03 535.58,384.07 533.54,384.09 531.50,384.12 529.46,384.13 527.41,384.15 525.37,384.15 523.33,384.15 521.29,384.15 519.25,384.14 517.20,384.12 515.16,384.10 513.12,384.08 511.07,384.04 509.03,384.00 506.99,383.96 504.94,383.91 502.90,383.85 500.85,383.79 498.80,383.72 496.76,383.64 494.71,383.56 492.67,383.47 490.62,383.37 488.57,383.27 486.52,383.16 484.47,383.04 482.42,382.92 480.38,382.79 478.33,382.65 476.28,382.51 474.22,382.36 472.17,382.20 470.12,382.03 468.07,381.86 466.02,381.68 463.96,381.49 461.91,381.29 459.85,381.09 457.80,380.88 455.74,380.66 453.69,380.43 451.63,380.19 449.58,379.95 447.53,379.69 445.47,379.43 443.42,379.16 441.37,378.88 439.32,378.59 437.28,378.29 435.23,377.98 433.19,377.66 431.15,377.33 429.11,376.99 427.08,376.64 425.05,376.28 423.02,375.91 420.99,375.53 418.97,375.14 416.96,374.73 414.95,374.32 412.94,373.89 410.94,373.45 408.94,373.00 406.95,372.54 404.96,372.06 402.98,371.58 401.00,371.08 399.03,370.56 397.07,370.04 395.11,369.50 393.16,368.95 391.22,368.38 389.28,367.80 387.35,367.21 385.43,366.60 383.51,365.98 381.61,365.35 379.71,364.70 377.82,364.03 375.94,363.35 374.07,362.66 372.20,361.95 370.35,361.22 368.50,360.48 366.67,359.72 364.84,358.95 363.02,358.16 361.22,357.36 359.42,356.54 357.63,355.70 355.86,354.84 354.10,353.97 352.34,353.08 350.60,352.17 348.87,351.25 347.15,350.31 345.44,349.35 343.75,348.37 342.06,347.37 340.39,346.35 338.73,345.32 337.09,344.26 335.45,343.19 333.83,342.09 332.22,340.98 330.62,339.85 329.03,338.70 327.45,337.53 325.88,336.35 324.32,335.15 322.77,333.93 321.23,332.69 319.70,331.44 318.18,330.17 316.67,328.89 315.16,327.59 313.67,326.28 312.18,324.95 310.71,323.61 309.24,322.25 307.77,320.88 306.32,319.50 304.87,318.10 303.43,316.69 302.00,315.27 300.57,313.84 299.15,312.40 297.74,310.95 296.33,309.48 294.93,308.01 293.54,306.52 292.15,305.03 290.76,303.52 289.38,302.01 288.01,300.49 286.64,298.96 285.27,297.42 283.91,295.88 282.55,294.33 281.20,292.77 279.85,291.21 278.50,289.64 277.16,288.07 275.82,286.49 274.48,284.90 273.15,283.31 271.82,281.72 270.49,280.12 269.16,278.52 267.83,276.92 266.51,275.32 265.18,273.71 263.86,272.10 262.54,270.49 261.22,268.88 259.89,267.27 258.57,265.66 257.25,264.05 255.93,262.44 254.61,260.83 253.29,259.22 251.97,257.61 250.64,256.01 249.32,254.41 247.99,252.81 246.66,251.22 245.33,249.63 243.99,248.04 242.65,246.46 241.31,244.88 240.06,243.23 238.70,241.67 237.34,240.12 235.97,238.58 234.60,237.04 233.22,235.51 231.83,234.00 230.44,232.49 229.04,230.99 227.64,229.50 226.22,228.02 224.80,226.56 223.37,225.10 221.93,223.66 220.48,222.23 219.02,220.82 217.55,219.42 216.07,218.04 214.58,216.67 213.08,215.31 211.56,213.97 210.04,212.65 208.50,211.35 206.95,210.06 205.38,208.80 203.81,207.55 202.21,206.32 200.61,205.11 198.99,203.92 197.35,202.76 195.70,201.61 194.03,200.48 192.35,199.38 190.65,198.30 188.94,197.25 187.20,196.22 185.45,195.21 183.69,194.22 181.90,193.26 180.11,192.30 178.30,191.37 176.47,190.46 174.62,189.57" fill="#74c4e8" fill-opacity="0.82"/>
<polyline points="1062.5,525 1093.5,519.5 1085,490" fill="none" stroke="#74c4e8" stroke-opacity="0.82" stroke-width="4.4" stroke-linejoin="miter"/>
<path d="M703,453 V553 L951,592" fill="none" stroke="#1893d0" stroke-width="3.7" stroke-dasharray="11,9,24,9,24,9,24,9,24,9,14,9,21,7,21,7,21,7,21,7,21,7,21,7,21,7,21,7,21,7,21,7,21,7"/>
<polyline points="950,586.5 961,594 950.5,600" fill="none" stroke="#1893d0" stroke-width="3.7" stroke-linejoin="miter"/>
<line x1="599.9" y1="178.1" x2="582.5" y2="209.6" stroke="#e4831d" stroke-width="1.9"/>
<polygon points="572.5,226.3 578.1,206.9 586.9,212.2" fill="#e4831d"/>
<line x1="682.75" y1="193.6" x2="665.3" y2="225.2" stroke="#e4831d" stroke-width="1.9"/>
<polygon points="655.9,241.5 660,222.8 670.6,227.7" fill="#e4831d"/>
<line x1="767.25" y1="206" x2="749.0" y2="237.8" stroke="#e4831d" stroke-width="1.9"/>
<polygon points="740.4,254.5 742.9,235 755,240.7" fill="#e4831d"/>
<line x1="985.3" y1="158.75" x2="783.7" y2="437.4" stroke="#e4831d" stroke-width="1.5"/>
<line x1="1077" y1="194.8" x2="652.6" y2="441.6" stroke="#e4831d" stroke-width="1.5"/>
<path d="M788.7,434.9 L783.7,437.4 L784.5,431.8 M658.2,441.3 L652.6,441.6 L655.6,436.8" fill="none" stroke="#e4831d" stroke-width="1.5"/>
<circle cx="993.4" cy="148.6" r="11.3" fill="none" stroke="#e4831d" stroke-width="1.35"/>
<path d="M990.00,145.70 L993.50,143.30 V155.90" fill="none" stroke="#e4831d" stroke-width="1.7" stroke-linejoin="round"/>
<circle cx="1088.8" cy="189.7" r="11.3" fill="none" stroke="#e4831d" stroke-width="1.35"/>
<text x="1088.8" y="196.3" font-size="18" text-anchor="middle" fill="#e4831d" textLength="8.2" lengthAdjust="spacingAndGlyphs">2</text>
<circle cx="630" cy="202.5" r="11.6" fill="none" stroke="#e4831d" stroke-width="1.35"/>
<text x="630" y="209.1" font-size="18" text-anchor="middle" fill="#e4831d" textLength="8.2" lengthAdjust="spacingAndGlyphs">7</text>
<circle cx="206.8" cy="184.1" r="11.3" fill="none" stroke="#1b8cc4" stroke-width="1.35"/>
<text x="206.8" y="190.7" font-size="18" text-anchor="middle" fill="#1b8cc4" textLength="8.2" lengthAdjust="spacingAndGlyphs">3</text>
<circle cx="246.2" cy="376.6" r="11.3" fill="none" stroke="#1b8cc4" stroke-width="1.35"/>
<text x="246.2" y="383.2" font-size="18" text-anchor="middle" fill="#1b8cc4" textLength="8.2" lengthAdjust="spacingAndGlyphs">4</text>
<circle cx="414.1" cy="468.3" r="11.3" fill="none" stroke="#1b8cc4" stroke-width="1.35"/>
<text x="414.1" y="474.9" font-size="18" text-anchor="middle" fill="#1b8cc4" textLength="8.2" lengthAdjust="spacingAndGlyphs">4</text>
<circle cx="626.9" cy="470.9" r="11.3" fill="none" stroke="#1b8cc4" stroke-width="1.35"/>
<text x="626.9" y="477.5" font-size="18" text-anchor="middle" fill="#1b8cc4" textLength="8.2" lengthAdjust="spacingAndGlyphs">5</text>
<circle cx="979.4" cy="599" r="11.3" fill="none" stroke="#1b8cc4" stroke-width="1.35"/>
<text x="979.4" y="605.6" font-size="18" text-anchor="middle" fill="#1b8cc4" textLength="8.2" lengthAdjust="spacingAndGlyphs">6</text>
<text x="1175.5" y="188.2" font-size="16" textLength="173" lengthAdjust="spacingAndGlyphs" fill="#050505" stroke="#050505" stroke-width="0.1">Sustainable Strategies</text>
<line x1="1174" y1="194.8" x2="1546" y2="194.8" stroke="#333" stroke-width="1.3"/>
<text x="1175.3" y="227.5" font-size="15" textLength="352.9" lengthAdjust="spacingAndGlyphs" fill="#050505" stroke="#050505" stroke-width="0.12" xml:space="preserve">1 - Passive Solar: April through October sun is</text>
<text x="1196.4" y="247.5" font-size="15" textLength="257.7" lengthAdjust="spacingAndGlyphs" fill="#050505" stroke="#050505" stroke-width="0.12" xml:space="preserve">kept out of the building envelope</text>
<text x="1175.3" y="267.5" font-size="15" textLength="364.9" lengthAdjust="spacingAndGlyphs" fill="#050505" stroke="#050505" stroke-width="0.12" xml:space="preserve">2 - Passive Solar: November through March sun</text>
<text x="1196.4" y="287.5" font-size="15" textLength="328.2" lengthAdjust="spacingAndGlyphs" fill="#050505" stroke="#050505" stroke-width="0.12" xml:space="preserve">reaches in and warms concrete slab floors,</text>
<text x="1196.4" y="307.5" font-size="15" textLength="323.7" lengthAdjust="spacingAndGlyphs" fill="#050505" stroke="#050505" stroke-width="0.12" xml:space="preserve">the buildings long Southern facing facade</text>
<text x="1196.4" y="327.5" font-size="15" textLength="202.5" lengthAdjust="spacingAndGlyphs" fill="#050505" stroke="#050505" stroke-width="0.12" xml:space="preserve">maximizes collection area</text>
<text x="1175.3" y="347.5" font-size="15" textLength="374.7" lengthAdjust="spacingAndGlyphs" fill="#050505" stroke="#050505" stroke-width="0.12" xml:space="preserve">3 - Passive Ventilation: The living pavilion opens</text>
<text x="1196.4" y="367.5" font-size="15" textLength="330.8" lengthAdjust="spacingAndGlyphs" fill="#050505" stroke="#050505" stroke-width="0.12" xml:space="preserve">fully on both North an South sides to allow</text>
<text x="1196.4" y="387.5" font-size="15" textLength="330.2" lengthAdjust="spacingAndGlyphs" fill="#050505" stroke="#050505" stroke-width="0.12" xml:space="preserve">downslope and upslope breezes to cool on</text>
<text x="1196.4" y="407.5" font-size="15" textLength="65.0" lengthAdjust="spacingAndGlyphs" fill="#050505" stroke="#050505" stroke-width="0.12" xml:space="preserve">hot days</text>
<text x="1175" y="427.5" font-size="15" textLength="365.2" lengthAdjust="spacingAndGlyphs" fill="#050505" stroke="#050505" stroke-width="0.12" xml:space="preserve">4 - Passive Cooling:  A Northern earth retaining</text>
<text x="1196" y="447.5" font-size="15" textLength="352.3" lengthAdjust="spacingAndGlyphs" fill="#050505" stroke="#050505" stroke-width="0.12" xml:space="preserve">courtyard with koi pond provides shaded cool</text>
<text x="1196" y="467.5" font-size="15" textLength="202.7" lengthAdjust="spacingAndGlyphs" fill="#050505" stroke="#050505" stroke-width="0.12" xml:space="preserve">space during still hot days</text>
<text x="1175" y="487.5" font-size="15" textLength="362.3" lengthAdjust="spacingAndGlyphs" fill="#050505" stroke="#050505" stroke-width="0.12" xml:space="preserve">5 - Thermal Mass:  Massive concrete floors and</text>
<text x="1196" y="507.5" font-size="15" textLength="350.0" lengthAdjust="spacingAndGlyphs" fill="#050505" stroke="#050505" stroke-width="0.12" xml:space="preserve">walls mediate hot &amp; cold temperature swings</text>
<text x="1175" y="527.5" font-size="15" textLength="355.4" lengthAdjust="spacingAndGlyphs" fill="#050505" stroke="#050505" stroke-width="0.12" xml:space="preserve">6 - Greywater Irrigation:  Greywater is used to</text>
<text x="1196" y="547.5" font-size="15" textLength="333.6" lengthAdjust="spacingAndGlyphs" fill="#050505" stroke="#050505" stroke-width="0.12" xml:space="preserve">irrigate gardens on lower property terraces</text>
<text x="1175" y="567.5" font-size="15" textLength="363.2" lengthAdjust="spacingAndGlyphs" fill="#050505" stroke="#050505" stroke-width="0.12" xml:space="preserve">7 - Active Solar:  The southern facing shed roof</text>
<text x="1196" y="587.5" font-size="15" textLength="357.4" lengthAdjust="spacingAndGlyphs" fill="#050505" stroke="#050505" stroke-width="0.12" xml:space="preserve">provides ideal orientation for the PV and solar</text>
<text x="1196" y="607.5" font-size="15" textLength="129.4" lengthAdjust="spacingAndGlyphs" fill="#050505" stroke="#050505" stroke-width="0.12" xml:space="preserve">hot water panels</text>
<text x="209" y="702.8" font-size="18.5" textLength="58.2" lengthAdjust="spacingAndGlyphs" fill="#111">Section</text>
<line x1="199" y1="708" x2="1050" y2="708" stroke="#555" stroke-width="1.8"/>
<polyline points="719,690 719,679 753.5,679 753.5,690 789.4,690 789.4,679 883.75,679 883.75,690 1048,690 1048,679" fill="none" stroke="#111" stroke-width="1.6"/>
<text x="718.4" y="701" font-size="9" fill="#111" text-anchor="middle">0</text>
<text x="753.5" y="701" font-size="9" fill="#111" text-anchor="middle">2&#8217;</text>
<text x="790.5" y="701" font-size="9" fill="#111" text-anchor="middle">4&#8217;</text>
<text x="885.2" y="701" font-size="9" fill="#111" text-anchor="middle">8&#8217;</text>
<text x="1049" y="701" font-size="9" fill="#111" text-anchor="middle">16&#8217;</text>
</svg>
</body></html>
